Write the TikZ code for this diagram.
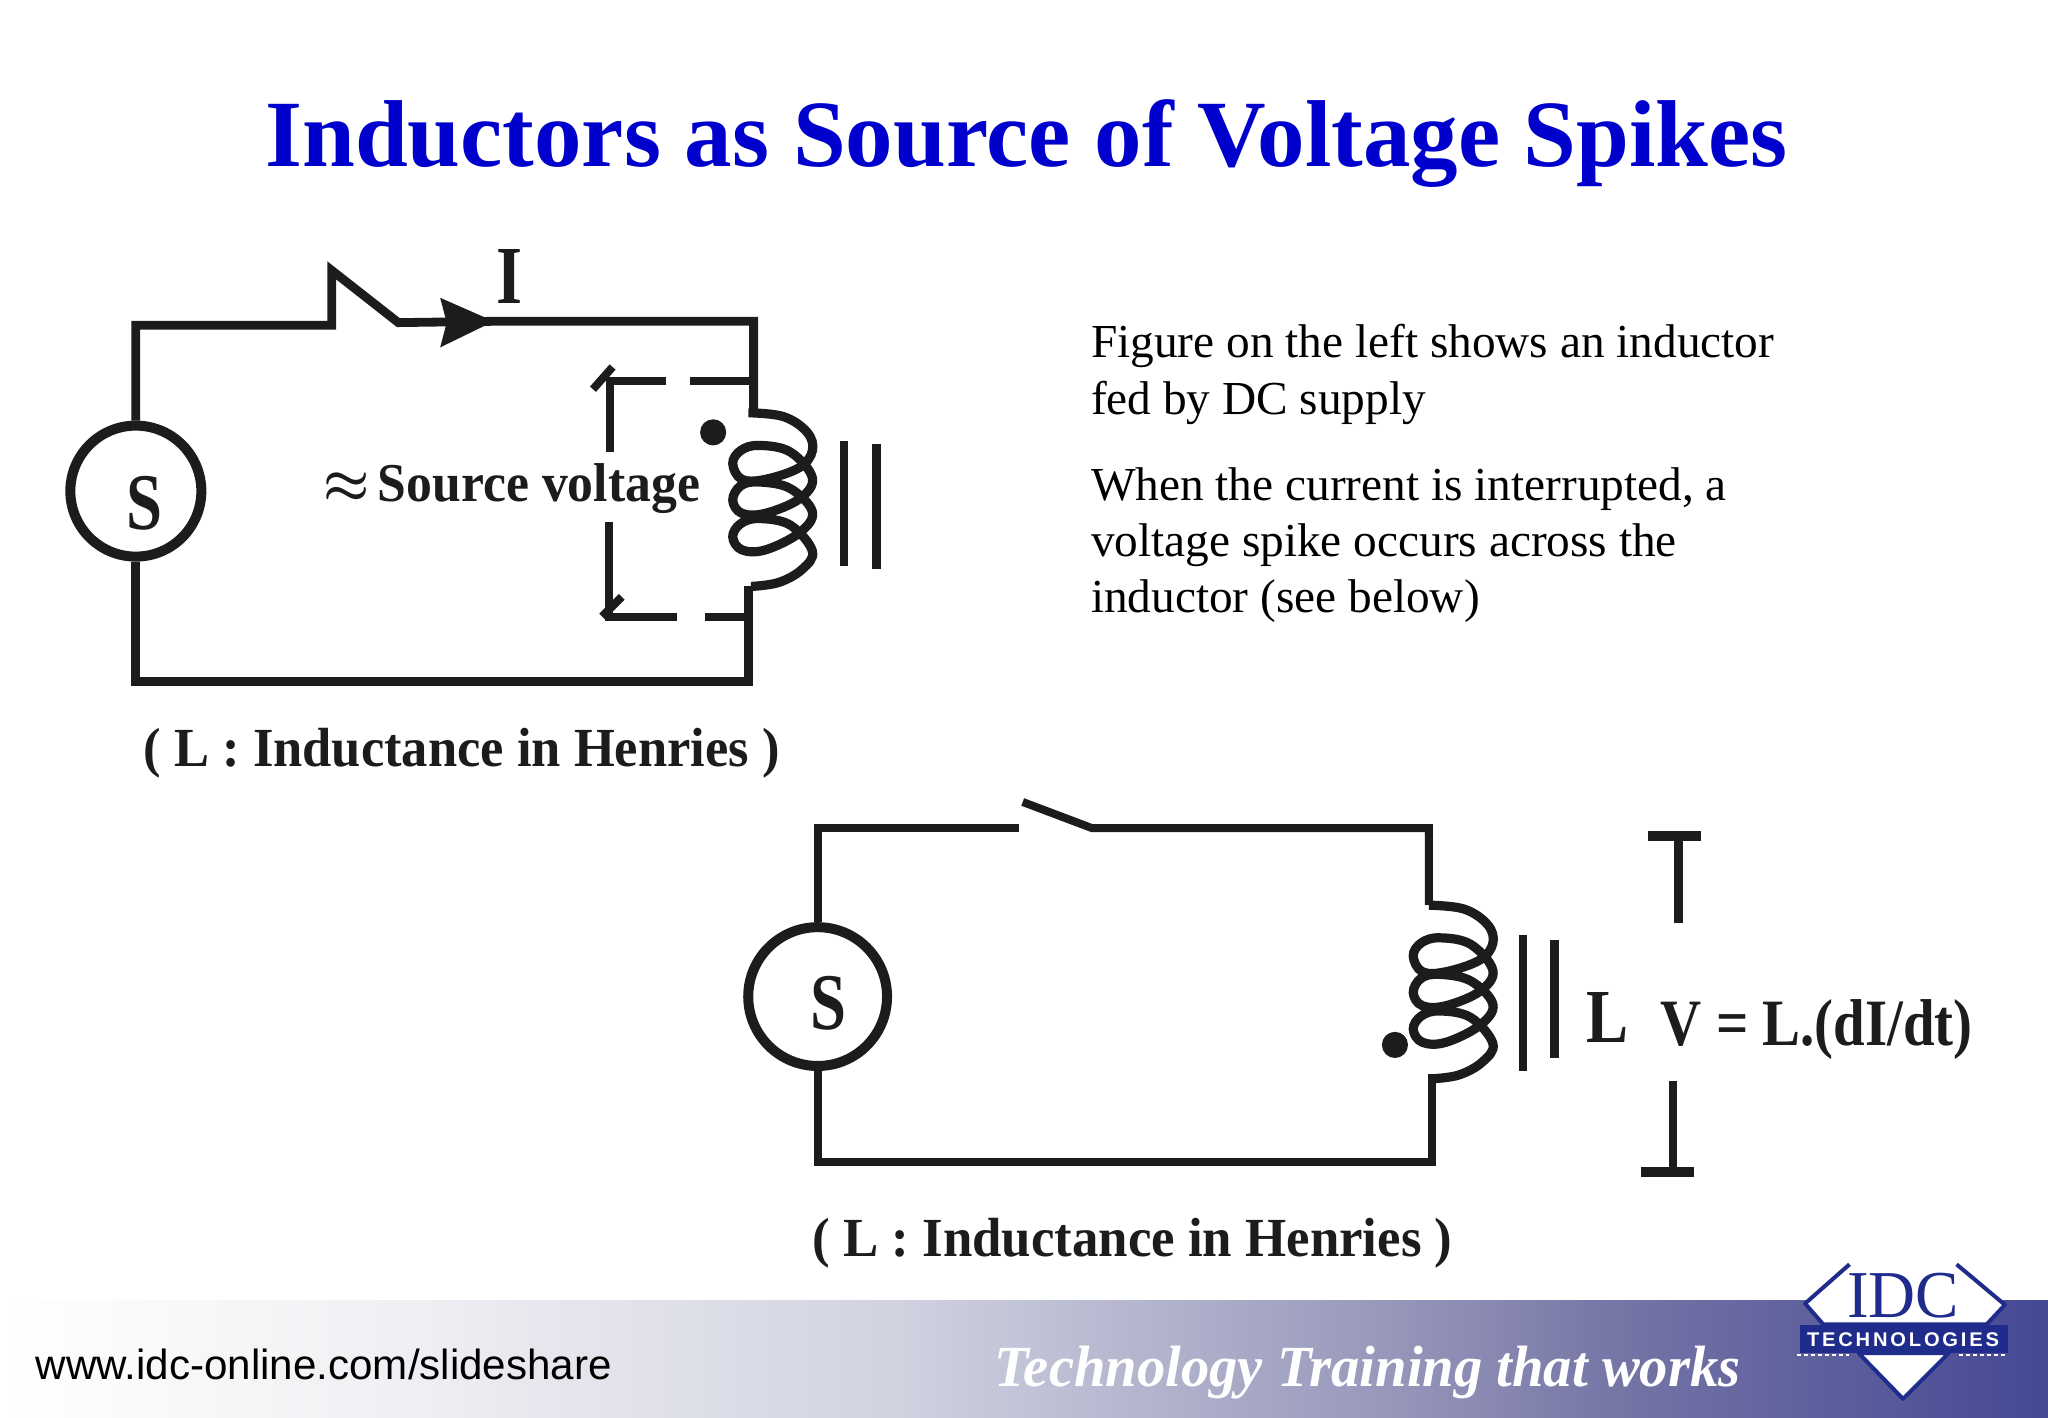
\documentclass[tikz,border=0pt]{standalone}
\usepackage{fontspec}
\usepackage{graphicx}
\setmainfont{Liberation Serif}
\newfontfamily\sansf{Liberation Sans}
\newfontfamily\sanstrack[LetterSpace=14]{Liberation Sans}
\definecolor{titleblue}{RGB}{0,0,204}
\definecolor{logoblue}{RGB}{32,44,140}
\definecolor{ink}{RGB}{28,28,28}
\definecolor{fa}{RGB}{240,240,244}
\definecolor{fb}{RGB}{208,210,224}
\definecolor{fc}{RGB}{150,150,186}
\definecolor{fd}{RGB}{115,115,165}
\definecolor{fe}{RGB}{68,72,148}
\pgfdeclarehorizontalshading{footerband}{100bp}{color(0bp)=(white); color(25bp)=(white); color(34.6bp)=(fa); color(47bp)=(fb); color(59.1bp)=(fc); color(64.9bp)=(fd); color(75bp)=(fe); color(100bp)=(fe)}
\newcommand{\coilpath}{plot[smooth,tension=0.62] coordinates {(573,316) (600,319) (618,331) (622,345) (612,358) (586,367) (568,367) (561,355) (567,345) (581,341) (605,346) (622,366) (612,382) (586,393) (568,393) (561,383) (567,372) (581,369) (605,374) (622,392) (612,408) (586,421) (568,421) (561,411) (567,401) (581,397) (605,402) (622,422) (614,436) (596,446) (575,449)}}
\tikzset{
 wire/.style={draw=ink,line width=4.4pt,line cap=butt,line join=miter},
 thinwire/.style={draw=ink,line width=4pt,line join=miter},
 coil/.style={draw=ink,line width=4.6pt},
 corebar/.style={draw=ink,line width=4.2pt},
 dashseg/.style={draw=ink,line width=4pt},
 src/.style={circle,draw=ink,line width=5pt,minimum size=65.5pt,inner sep=0pt},
 lab/.style={inner sep=0pt,text=ink,font=\bfseries},
 body/.style={inner sep=0pt,anchor=base west,text=black,font=\fontsize{23.65}{28}\selectfont},
}
\begin{document}
\begin{tikzpicture}[x=0.653pt,y=-0.653pt]
\useasboundingbox (0,0) rectangle (1568,1085.6);
\fill[white] (0,0) rectangle (1568,1085.6);
% footer
\shade[shading=footerband] (0,996) rectangle (1568,1085.6);
\node[inner sep=0pt,anchor=base,text=titleblue,font=\bfseries] (title) at (786,127.5) {\resizebox{761pt}{!}{Inductors as Source of Voltage Spikes}};
% body
\node[body] (b1) at (835,274) {Figure on the left shows an inductor};
\node[body] (b2) at (835,317) {fed by DC supply};
\node[body] (b3) at (835,383) {When the current is interrupted, a};
\node[body] (b4) at (835,426) {voltage spike occurs across the};
\node[body] (b5) at (835,469) {inductor (see below)};
% circuit 1
\node[src] (sa) at (104,376) {};
\node[lab] (sal) at (111,385) {\resizebox*{18pt}{27pt}{S}};
\coordinate (a1) at (104,249);
\coordinate (a2) at (254,249);
\coordinate (a3) at (254,207);
\coordinate (a4) at (305,247);
\coordinate (a5) at (378,246);
\coordinate (a6) at (577,246);
\coordinate (a7) at (577,316);
\coordinate (a8) at (573,449);
\coordinate (a9) at (573,522);
\coordinate (a10) at (104,522);
\draw[wire] (sa.north) -- (a1) -- (a2) -- (a3) -- (a4) -- (a5) -- (a6) -- (a7);
\draw[wire] (a8) -- (a9) -- (a10) -- (sa.south);
\fill[ink] (378,246) -- (337,228) -- (342,247) -- (337,266) -- cycle;
\node[lab] (ilab) at (390,212) {\resizebox*{13pt}{27pt}{I}};
\draw[coil] \coilpath;
\fill[ink] (546,331) circle (10);
\draw[corebar] (646,338) -- (646,433);
\draw[corebar] (671,340) -- (671,436);
\draw[dashseg] (577,292) -- (528,292);
\draw[dashseg] (510,292) -- (467,292) -- (467,346);
\draw[dashseg] (466,400) -- (466,472) -- (518,472);
\draw[dashseg] (540,472) -- (573,472);
\draw[dashseg] (454,298) -- (469,281);
\draw[dashseg] (461,472) -- (476,457);
\node[lab] (sv) at (392,374) {\resizebox*{188pt}{25pt}{\boldmath$\approx$\kern1.5pt Source voltage}};
\node[lab] (capa) at (353.5,576.5) {\resizebox*{318pt}{25pt}{( L : Inductance in Henries )}};
% circuit 2
\node[src,minimum size=69.4pt] (sb) at (626,763) {};
\node[lab] (sbl) at (634,768) {\resizebox*{18pt}{27pt}{S}};
\coordinate (c1) at (626,634);
\coordinate (c2) at (780,634);
\coordinate (c3) at (836,634);
\coordinate (c4) at (783,614);
\coordinate (c5) at (1094,634);
\coordinate (c6) at (1094,693);
\coordinate (c7) at (1096,822);
\coordinate (c8) at (1096,890);
\coordinate (c9) at (626,890);
\draw[thinwire] (sb.north) -- (c1) -- (c2);
\draw[thinwire] (c4) -- (c3) -- (c5) -- (c6);
\draw[thinwire] (c7) -- (c8) -- (c9) -- (sb.south);
\begin{scope}[shift={(521,377)}]
\draw[coil] \coilpath;
\end{scope}
\fill[ink] (1068,800) circle (10);
\draw[corebar] (1166,716) -- (1166,820);
\draw[corebar] (1190,720) -- (1190,810);
\node[lab] (llab) at (1231,779) {\resizebox*{21pt}{25pt}{L}};
\node[lab] (vlab) at (1391,788) {\resizebox*{156pt}{30pt}{V = L.(dI/dt)}};
\coordinate (t1) at (1262,640);
\coordinate (t2) at (1302,640);
\coordinate (t3) at (1285,640);
\coordinate (t4) at (1285,707);
\coordinate (u1) at (1256,897);
\coordinate (u2) at (1297,897);
\coordinate (u3) at (1281,897);
\coordinate (u4) at (1281,828);
\draw[draw=ink,line width=5pt] (t1) -- (t2);
\draw[corebar] (t3) -- (t4);
\draw[draw=ink,line width=5pt] (u1) -- (u2);
\draw[corebar] (u3) -- (u4);
\node[lab] (capb) at (867,951.5) {\resizebox*{320pt}{25pt}{( L : Inductance in Henries )}};
% footer text
\node[inner sep=0pt,anchor=base west,text=black] (url) at (27,1056) {\sansf\fontsize{21.07}{24}\selectfont www.idc-online.com/slideshare};
\node[inner sep=0pt,text=white] (tag) at (1047,1051) {\resizebox*{373pt}{26.5pt}{\bfseries\itshape Technology Training that works}};
% logo
\path[fill=white,draw=logoblue,line width=2pt,line join=round] (1416,968) -- (1382,998) -- (1396,1014) -- (1521,1014) -- (1535,999) -- (1498,968);
\path[fill=white,draw=logoblue,line width=2pt,line join=round] (1423,1036) -- (1492,1036) -- (1457,1071) -- cycle;
\fill[logoblue] (1378,1014.5) rectangle (1537,1036);
\draw[white,line width=0.8pt,dash pattern=on 2pt off 1.5pt] (1376,1037.5) -- (1416,1037.5);
\draw[white,line width=0.8pt,dash pattern=on 2pt off 1.5pt] (1500,1037.5) -- (1537,1037.5);
\node[inner sep=0pt,text=logoblue] (idc) at (1457,992) {\resizebox*{56pt}{22.5pt}{IDC}};
\node[inner sep=0pt,text=white] (tech) at (1457,1025.5) {\resizebox*{96pt}{7pt}{\sanstrack\bfseries TECHNOLOGIES}};
\end{tikzpicture}
\end{document}
